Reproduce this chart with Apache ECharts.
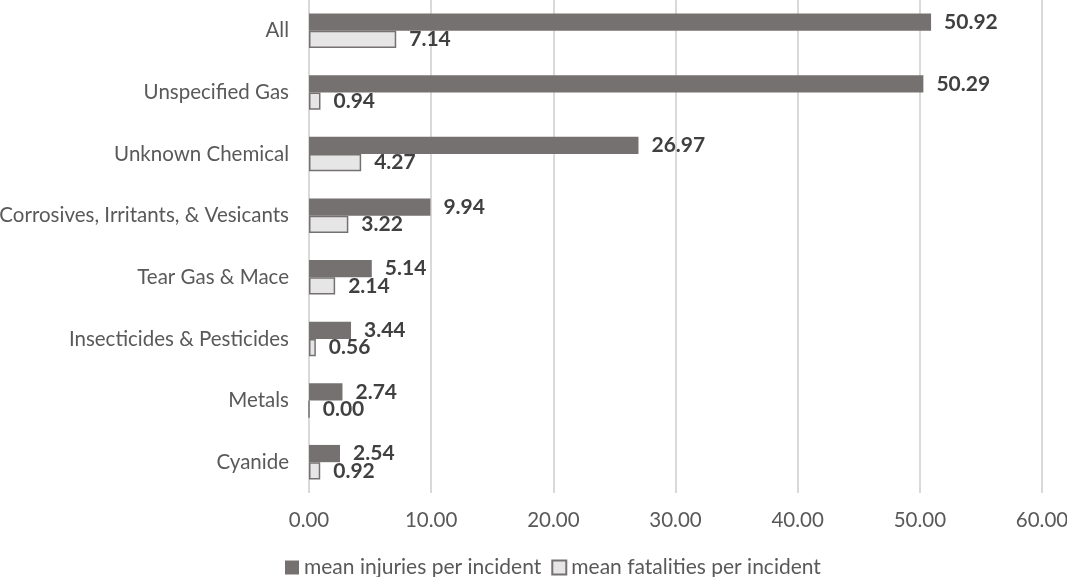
<!DOCTYPE html>
<html lang="en">
<head>
	<meta charset="UTF-8">
	<title>Mean injuries and fatalities per incident</title>
	<style>
		html, body { margin: 0; padding: 0; background: #fff; }
		#main { width: 1067px; height: 577px; }
	</style>
</head>
<body>
	<div id="main"></div>
	<script src="https://cdn.jsdelivr.net/npm/echarts@6/dist/echarts.min.js"></script>
	<script>
		// data
		var categories = ['All', 'Unspecified Gas', 'Unknown Chemical', 'Corrosives, Irritants, & Vesicants',
			'Tear Gas & Mace', 'Insecticides & Pesticides', 'Metals', 'Cyanide'];
		var injuries = [50.92, 50.29, 26.97, 9.94, 5.14, 3.44, 2.74, 2.54];
		var fatalities = [7.14, 0.94, 4.27, 3.22, 2.14, 0.56, 0.00, 0.92];
		var xTicks = [0, 10, 20, 30, 40, 50, 60];

		var font = 'Lato, "Open Sans", sans-serif';
		var myChart = echarts.init(document.getElementById('main'));

		var barLabel = {
			show: true,
			position: 'right',
			distance: 13,
			color: '#404040',
			fontFamily: font,
			fontSize: 21,
			fontWeight: 'bold',
			formatter: function (p) { return p.value.toFixed(2); }
		};

		var option = {
			animation: false,
			textStyle: { fontFamily: font },
			grid: {
				left: 309,
				right: 25,
				top: 0,
				bottom: 84,
				containLabel: false,
				outerBoundsMode: 'none'
			},
			legend: {
				left: 280,
				bottom: -6,
				icon: 'rect',
				itemWidth: 14,
				itemHeight: 14,
				itemGap: 10,
				textStyle: { color: '#595959', fontSize: 21, fontFamily: font },
				data: ['mean injuries per incident', 'mean fatalities per incident']
			},
			xAxis: {
				type: 'value',
				min: xTicks[0],
				max: xTicks[xTicks.length - 1],
				interval: 10,
				axisLine: { show: false },
				axisTick: { show: false },
				axisLabel: {
					color: '#595959',
					fontSize: 20.5,
					margin: 17,
					formatter: function (v) { return v.toFixed(2); }
				},
				splitLine: { lineStyle: { color: '#d9d9d9', width: 2 } }
			},
			yAxis: {
				type: 'category',
				inverse: true,
				data: categories,
				axisLine: { show: false },
				axisTick: { show: false },
				axisLabel: { color: '#595959', fontSize: 20.5, margin: 20 }
			},
			series: [
				{
					name: 'mean injuries per incident',
					type: 'bar',
					data: injuries,
					barGap: '0%',
					barCategoryGap: '44%',
					itemStyle: { color: '#767171' },
					label: barLabel
				},
				{
					name: 'mean fatalities per incident',
					type: 'bar',
					data: fatalities,
					itemStyle: { color: '#e7e6e6', borderColor: '#767171', borderWidth: 1.5 },
					label: barLabel
				}
			]
		};

		myChart.setOption(option);
	</script>
</body>
</html>
